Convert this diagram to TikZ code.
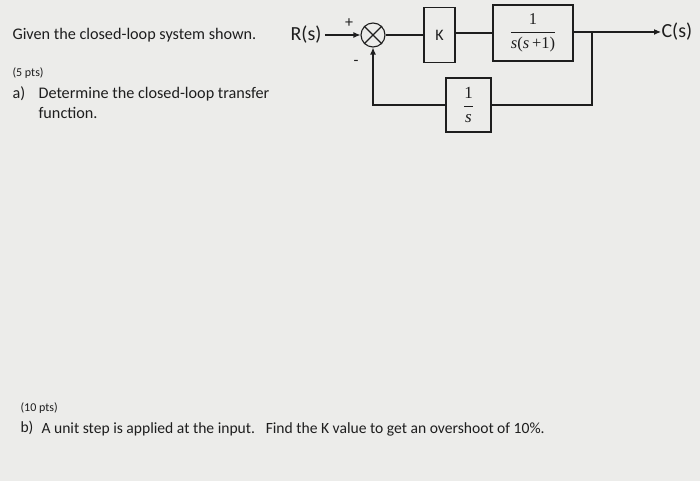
\documentclass[tikz,border=0pt]{standalone}
\usepackage{fontspec}
\setmainfont{Carlito}
\newfontfamily\tms{Liberation Serif}
\usetikzlibrary{arrows.meta}
\definecolor{paper}{RGB}{236,236,234}
\definecolor{ink}{RGB}{30,30,30}
\newcommand{\tfr}[2]{$\displaystyle\frac{\mbox{#1}}{\mbox{#2}}$}
\tikzset{
  blk/.style={draw=ink, line width=1.1pt, inner sep=0pt},
  sumj/.style={draw=ink, circle, line width=1.1pt, minimum size=24pt, inner sep=0pt},
  txt/.style={anchor=west, inner sep=0pt, font=\fontsize{16.2}{19}\selectfont},
  small/.style={anchor=west, inner sep=0pt, font=\fontsize{12}{14}\selectfont},
  sig/.style={inner sep=0pt, font=\fontsize{20}{23}\selectfont},
  arr/.style={-{Latex[length=7pt,width=6pt]}, line width=1.1pt}
}
\begin{document}
\begin{tikzpicture}[x=1pt,y=-1pt,line width=1.1pt,color=ink]
\fill[paper] (0,0) rectangle (700,481);
\useasboundingbox (0,0) rectangle (700,481);
%% question text
\node[txt] (given) at (12,35) {Given the closed-loop system shown.};
\node[small] (pa) at (12,73) {(5 pts)};
\node[txt] (qa) at (12,94) {a)};
\node[txt] (qatext) at (38,94) {Determine the closed-loop transfer};
\node[txt] (qatext2) at (38,113) {function.};
\node[small] (pb) at (20,408) {(10 pts)};
\node[txt, font=\fontsize{15.6}{18}\selectfont] (qb) at (20,428) {b)};
\node[txt, font=\fontsize{15.6}{18}\selectfont] (qbtext) at (41,429) {A unit step is applied at the input.\hspace{6pt} Find the K value to get an overshoot of 10\%.};
%% block diagram
\node[sig] (in) at (306,35) {R(s)};
\node[sumj] (sum) at (373,35) {};
\draw (sum.north west) -- (sum.south east);
\draw (sum.north east) -- (sum.south west);
\node[blk, minimum width=31pt, minimum height=55pt, font=\fontsize{16}{18}\selectfont] (k) at (439.5,35) {K};
\node[blk, minimum width=80pt, minimum height=56pt, font=\tms\fontsize{16.5}{19}\selectfont] (g) at (533,33) {\tfr{1}{\itshape s\upshape(\itshape s\upshape\,+1)}};
\node[blk, minimum width=45pt, minimum height=54pt, font=\tms\fontsize{17}{19}\selectfont] (h) at (468.5,105) {\tfr{1}{\itshape s}};
\node[sig, anchor=west] (out) at (661,32) {C(s)};
\coordinate (br) at (592,32);
\node[font=\fontsize{16}{18}\selectfont] (plus) at (349,23) {+};
\node[font=\fontsize{16}{18}\selectfont] (minus) at (356,63) {-};
%%
\draw[arr] (in.east) ++(3,0) -- (sum.west);
\draw (sum.east) -- (sum.east -| k.west);
\draw (k.east |- 0,33) -- (g.west |- 0,33);
\draw[arr] (g.east |- out.west) -- (out.west);
\draw (br) |- (h.east);
\draw[arr] (h.west) -| (sum.south);
\end{tikzpicture}
\end{document}
